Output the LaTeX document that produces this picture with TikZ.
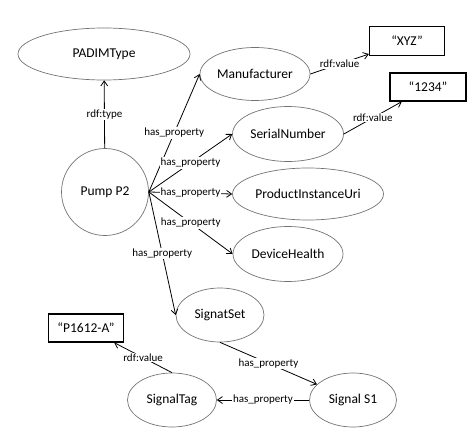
\documentclass[tikz,border=0pt]{standalone}
\usepackage{fontspec}
\setmainfont{Carlito}
\usetikzlibrary{shapes.geometric,arrows.meta}
\begin{document}
\begin{tikzpicture}[x=1pt,y=-1pt,
  >={Straight Barb[angle=70:6pt]},
  cls/.style={draw=black!55, line width=0.7pt, ellipse, inner sep=0pt, font=\fontsize{13.5}{15}\selectfont},
  lit/.style={draw, line width=1.3pt, rectangle, inner sep=0pt, font=\fontsize{13.5}{15}\selectfont},
  rel/.style={fill=white, inner sep=0.8pt, font=\fontsize{11}{12}\selectfont},
  every path/.style={line width=0.8pt}]
\useasboundingbox (0,0) rectangle (474,434);
\node[cls, minimum width=172pt, minimum height=52pt] (padim) at (104,54) {PADIMType};
\node[cls, circle, minimum size=87pt] (pump) at (105,192) {Pump P2};
\node[cls, minimum width=110pt, minimum height=53pt] (manuf) at (255,74) {Manufacturer};
\node[cls, minimum width=111pt, minimum height=55pt] (serial) at (288,134) {SerialNumber};
\node[cls, minimum width=151pt, minimum height=52pt] (produri) at (308,194) {ProductInstanceUri};
\node[cls, minimum width=110pt, minimum height=55pt] (health) at (288,254) {DeviceHealth};
\node[cls, minimum width=88pt, minimum height=54pt] (sigset) at (220,315) {SignatSet};
\node[cls, minimum width=87pt, minimum height=54pt] (sigs1) at (353,400) {Signal S1};
\node[cls, minimum width=89pt, minimum height=54pt] (sigtag) at (172,400) {SignalTag};
\node[lit, minimum width=75pt, minimum height=29pt] (xyz) at (407,41) {“XYZ”};
\node[lit, minimum width=76pt, minimum height=28pt] (num) at (428,87) {“1234”};
\node[lit, minimum width=75pt, minimum height=28pt] (tag) at (86,328) {“P1612-A”};
\draw[->] (pump) -- node[rel] {rdf:type} (padim);
\draw[->] (pump.east) -- node[rel] {has\_property} (manuf.west);
\draw[->] (pump.east) -- node[rel] {has\_property} (serial.west);
\draw[->] (pump.east) -- node[rel] {has\_property} (produri.west);
\draw[->] (pump.east) -- node[rel] {has\_property} (health.west);
\draw[->] (pump.east) -- node[rel] {has\_property} (sigset.west);
\draw[->] (manuf.east) -- node[rel] {rdf:value} (xyz);
\draw[->] (serial.east) -- node[rel] {rdf:value} (num);
\draw[->] (sigset.south) -- node[rel] {has\_property} (sigs1);
\draw[->] (sigs1.west) -- node[rel] {has\_property} (sigtag.east);
\draw[->] (sigtag.north) -- node[rel] {rdf:value} (tag);
\end{tikzpicture}
\end{document}
